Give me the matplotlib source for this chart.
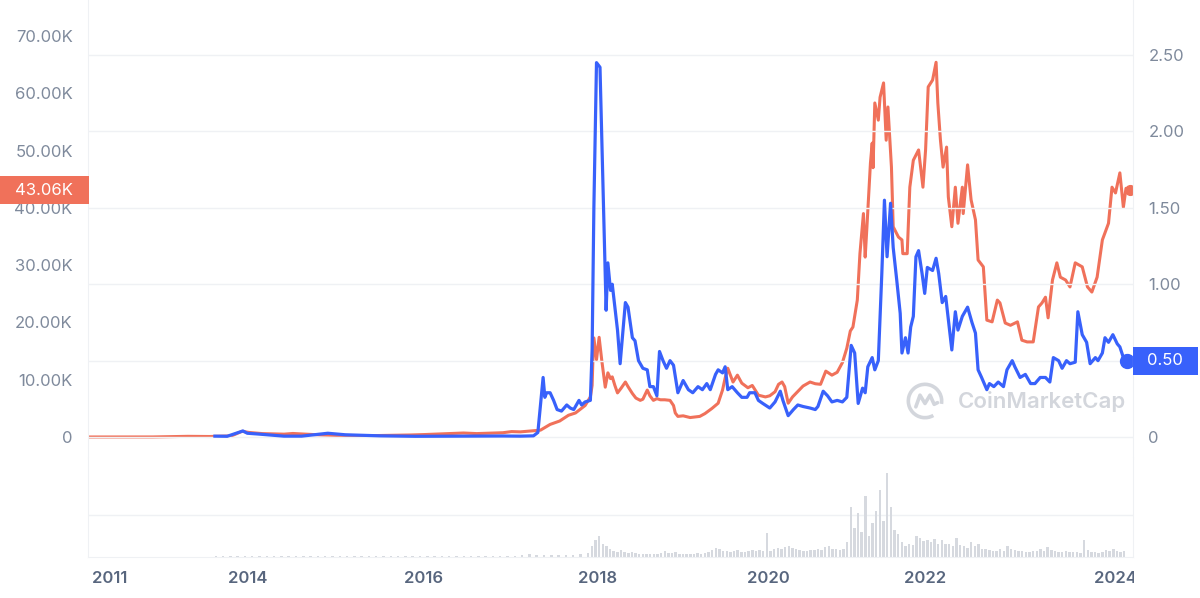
import matplotlib
matplotlib.use("Agg")
import matplotlib.pyplot as plt
from matplotlib.patches import Rectangle, Arc

plt.rcParams['font.family'] = ['Inter', 'DejaVu Sans']

# BTC price (thousands USD), left axis
btc_t = [2012.16, 2012.50, 2012.90, 2013.20, 2013.30, 2013.55, 2013.80, 2013.92, 2014.00, 2014.15,
         2014.40, 2014.50, 2014.80, 2015.00, 2015.40, 2015.85, 2016.00, 2016.45, 2016.60, 2016.90,
         2017.00, 2017.10, 2017.33, 2017.44, 2017.55, 2017.65, 2017.73, 2017.84, 2017.90, 2017.92,
         2017.93, 2017.94, 2017.97, 2018.00, 2018.03, 2018.07, 2018.10, 2018.13, 2018.15, 2018.18,
         2018.21, 2018.25, 2018.30, 2018.33, 2018.38, 2018.42, 2018.47, 2018.50, 2018.55, 2018.58,
         2018.62, 2018.66, 2018.70, 2018.75, 2018.81, 2018.85, 2018.87, 2018.90, 2018.96, 2019.04,
         2019.15, 2019.21, 2019.29, 2019.36, 2019.41, 2019.44, 2019.47, 2019.53, 2019.58, 2019.63,
         2019.70, 2019.75, 2019.82, 2019.90, 2019.95, 2020.01, 2020.05, 2020.09, 2020.12, 2020.16,
         2020.21, 2020.26, 2020.33, 2020.41, 2020.47, 2020.53, 2020.59, 2020.66, 2020.72, 2020.78,
         2020.83, 2020.87, 2020.90, 2020.95, 2020.98, 2021.02, 2021.04, 2021.06, 2021.10, 2021.12,
         2021.13, 2021.15, 2021.19, 2021.21, 2021.25, 2021.28, 2021.30, 2021.34, 2021.36, 2021.42,
         2021.46, 2021.47, 2021.52, 2021.55, 2021.59, 2021.65, 2021.70, 2021.73, 2021.76, 2021.81,
         2021.85, 2021.87, 2021.90, 2021.93, 2021.97, 2021.99, 2022.03, 2022.07, 2022.10, 2022.15,
         2022.16, 2022.21, 2022.25, 2022.30, 2022.33, 2022.39, 2022.43, 2022.49, 2022.55, 2022.58,
         2022.64, 2022.70, 2022.78, 2022.83, 2022.89, 2022.96, 2023.02, 2023.06, 2023.10, 2023.13,
         2023.18, 2023.23, 2023.27, 2023.33, 2023.38, 2023.44, 2023.52, 2023.58, 2023.63, 2023.69,
         2023.75, 2023.82, 2023.86, 2023.90, 2023.95, 2023.99, 2024.02, 2024.07]
btc_k = [0.005, 0.007, 0.012, 0.09, 0.12, 0.09, 0.2, 1.0, 0.8, 0.6,
         0.5, 0.62, 0.38, 0.28, 0.24, 0.36, 0.43, 0.7, 0.6, 0.75,
         0.95, 0.9, 1.2, 2.2, 2.8, 3.8, 4.2, 5.5, 7.0, 9.0,
         14.0, 17.3, 13.5, 17.4, 13.4, 8.7, 11.2, 10.2, 10.5, 9.0,
         7.7, 8.5, 9.6, 8.8, 7.6, 6.8, 6.4, 6.6, 8.2, 7.2,
         6.4, 6.7, 6.5, 6.5, 6.4, 5.5, 4.2, 3.6, 3.7, 3.4,
         3.6, 4.1, 5.0, 5.9, 8.2, 10.3, 12.0, 9.6, 10.8, 9.4,
         8.6, 9.0, 7.3, 7.0, 7.2, 7.9, 9.2, 9.6, 8.8, 5.9,
         7.0, 7.8, 8.9, 9.6, 9.3, 9.2, 11.5, 10.8, 11.3, 13.0,
         15.5, 18.5, 19.2, 23.9, 32.0, 39.0, 31.4, 36.7, 47.8, 51.3,
         47.0, 58.3, 55.3, 59.3, 61.8, 51.8, 57.6, 47.1, 36.7, 34.9,
         34.4, 32.0, 32.0, 43.6, 48.3, 50.1, 43.6, 50.1, 61.1, 62.3,
         65.4, 58.3, 51.8, 47.1, 50.6, 41.9, 36.7, 43.6, 37.3, 43.6,
         39.0, 47.5, 41.4, 37.9, 30.9, 29.7, 20.4, 20.1, 23.9, 23.4,
         19.9, 19.5, 20.1, 16.9, 16.6, 16.6, 22.7, 23.4, 24.4, 20.8,
         27.4, 30.4, 27.9, 27.4, 26.2, 30.4, 29.7, 26.2, 25.3, 27.9,
         34.4, 37.3, 43.6, 42.6, 46.1, 40.1, 43.4, 43.06]

# XRP price (USD), right axis
xrp_t = [2013.61, 2013.75, 2013.88, 2013.93, 2013.98, 2014.10, 2014.40, 2014.60, 2014.90, 2015.10,
         2015.50, 2015.90, 2016.50, 2016.90, 2017.10, 2017.25, 2017.30, 2017.36, 2017.38, 2017.40,
         2017.44, 2017.48, 2017.52, 2017.57, 2017.63, 2017.67, 2017.71, 2017.77, 2017.80, 2017.84,
         2017.90, 2017.92, 2017.94, 2017.97, 2018.01, 2018.05, 2018.08, 2018.10, 2018.13, 2018.15,
         2018.21, 2018.24, 2018.30, 2018.33, 2018.38, 2018.41, 2018.45, 2018.50, 2018.55, 2018.58,
         2018.62, 2018.66, 2018.69, 2018.73, 2018.77, 2018.81, 2018.85, 2018.90, 2018.96, 2019.02,
         2019.07, 2019.13, 2019.18, 2019.23, 2019.27, 2019.33, 2019.36, 2019.41, 2019.44, 2019.47,
         2019.52, 2019.58, 2019.63, 2019.69, 2019.72, 2019.78, 2019.82, 2019.87, 2019.95, 2020.01,
         2020.07, 2020.10, 2020.16, 2020.22, 2020.27, 2020.33, 2020.41, 2020.47, 2020.50, 2020.56,
         2020.61, 2020.66, 2020.72, 2020.78, 2020.83, 2020.88, 2020.92, 2020.96, 2021.01, 2021.04,
         2021.07, 2021.12, 2021.15, 2021.19, 2021.23, 2021.26, 2021.29, 2021.33, 2021.36, 2021.40,
         2021.44, 2021.46, 2021.50, 2021.53, 2021.56, 2021.59, 2021.62, 2021.65, 2021.69, 2021.72,
         2021.75, 2021.81, 2021.85, 2021.88, 2021.92, 2021.96, 2021.99, 2022.03, 2022.07, 2022.10,
         2022.15, 2022.21, 2022.26, 2022.30, 2022.33, 2022.37, 2022.43, 2022.46, 2022.51, 2022.56,
         2022.62, 2022.66, 2022.72, 2022.75, 2022.81, 2022.87, 2022.93, 2022.98, 2023.04, 2023.10,
         2023.15, 2023.19, 2023.25, 2023.29, 2023.34, 2023.38, 2023.44, 2023.47, 2023.52, 2023.57,
         2023.61, 2023.67, 2023.70, 2023.75, 2023.78, 2023.82, 2023.87, 2023.92, 2023.95, 2023.99,
         2024.03]
xrp_usd = [0.006, 0.005, 0.03, 0.04, 0.025, 0.02, 0.006, 0.006, 0.025, 0.015,
           0.008, 0.005, 0.006, 0.007, 0.006, 0.008, 0.03, 0.39, 0.26, 0.29,
           0.29, 0.24, 0.18, 0.17, 0.21, 0.19, 0.18, 0.24, 0.21, 0.23,
           0.24, 0.57, 1.50, 2.45, 2.42, 1.50, 0.83, 1.14, 0.96, 1.00,
           0.70, 0.48, 0.88, 0.85, 0.65, 0.63, 0.50, 0.45, 0.44, 0.33,
           0.33, 0.27, 0.56, 0.50, 0.45, 0.50, 0.47, 0.29, 0.37, 0.31,
           0.29, 0.33, 0.31, 0.35, 0.31, 0.41, 0.44, 0.42, 0.46, 0.31,
           0.33, 0.29, 0.26, 0.26, 0.29, 0.29, 0.24, 0.22, 0.19, 0.23,
           0.30, 0.24, 0.14, 0.18, 0.21, 0.20, 0.19, 0.18, 0.20, 0.30,
           0.27, 0.23, 0.24, 0.23, 0.26, 0.60, 0.55, 0.22, 0.32, 0.29,
           0.46, 0.52, 0.44, 0.50, 1.07, 1.55, 1.18, 1.53, 1.24, 1.03,
           0.81, 0.55, 0.65, 0.55, 0.72, 0.79, 1.18, 1.22, 1.07, 0.94,
           1.11, 1.09, 1.17, 1.07, 0.88, 0.92, 0.77, 0.57, 0.82, 0.70,
           0.79, 0.85, 0.75, 0.68, 0.44, 0.39, 0.31, 0.35, 0.33, 0.36,
           0.33, 0.44, 0.50, 0.46, 0.39, 0.41, 0.35, 0.35, 0.39, 0.39,
           0.36, 0.52, 0.50, 0.45, 0.50, 0.48, 0.49, 0.82, 0.67, 0.62,
           0.48, 0.52, 0.50, 0.55, 0.65, 0.62, 0.67, 0.61, 0.59, 0.52,
           0.50]

# volume (billions USD): monthly until late 2017, then twice a month
vol_early_start = 2013.62
vol_early = [0.15, 0.2, 0.15, 0.3, 0.25, 0.2, 0.15, 0.2, 0.15, 0.2, 0.2, 0.15,
             0.2, 0.15, 0.2, 0.2, 0.15, 0.2, 0.2, 0.15, 0.2, 0.15, 0.2, 0.2,
             0.15, 0.2, 0.2, 0.15, 0.2, 0.2, 0.15, 0.2, 0.2, 0.15, 0.2, 0.2,
             0.2, 0.15, 0.2, 0.2, 0.25, 0.3, 0.5, 0.6, 0.5, 0.4, 0.5, 0.5,
             0.4, 0.5, 0.6]
vol_late_start = 2017.875
vol_late = [1.0, 2.5, 4.0,
            5.0, 3.0, 2.5, 1.8, 1.5, 1.2, 1.6, 1.3, 1.0, 1.1, 0.9, 0.8,
            0.8, 0.7, 0.6, 0.8, 0.7, 0.9, 1.4, 1.0, 0.9, 1.2, 0.8, 0.7,
            0.7, 0.6, 0.8, 0.9, 0.8, 1.0, 1.3, 1.6, 2.2, 1.8, 1.5, 1.4,
            1.2, 1.5, 1.6, 1.3, 1.2, 1.5, 1.7, 1.4, 1.6, 1.5, 5.8, 1.4,
            1.8, 2.2, 2.0, 2.4, 2.6, 2.1, 1.8, 1.6, 1.5, 1.4, 1.6, 1.7,
            1.8, 1.6, 2.3, 2.5, 2.0, 1.8, 1.7, 1.9, 3.5, 12.0, 7.0, 10.5,
            6.0, 14.5, 5.0, 8.0, 11.0, 16.0, 8.5, 20.0, 12.0, 6.5, 5.5, 3.5,
            2.5, 3.0, 2.8, 5.0, 4.5, 3.8, 4.0, 3.5, 4.2, 3.0, 4.0, 3.2,
            3.0, 2.5, 4.5, 2.8, 2.5, 2.2, 3.5, 2.6, 3.0, 2.0, 1.8, 1.6,
            1.5, 1.4, 2.0, 1.5, 2.6, 1.8, 1.6, 1.4, 1.5, 1.3, 1.2, 1.4,
            1.5, 1.8, 1.4, 2.4, 1.6, 1.5, 1.3, 1.2, 1.4, 1.2, 1.1, 1.2,
            1.0, 4.0, 1.6, 1.2, 1.1, 1.0, 1.3, 1.6, 1.5, 1.8, 1.4, 1.3,
            1.5]

# year labels sit where the source chart puts them
year_ticks = [2012.41, 2013.99, 2015.99, 2017.98, 2019.93, 2021.72, 2023.90]
year_labels = ["2011", "2014", "2016", "2018", "2020", "2022", "2024"]
btc_ticks = [0, 10, 20, 30, 40, 50, 60, 70]
xrp_ticks = [0, 0.5, 1.0, 1.5, 2.0, 2.5]

ORANGE = "#F0715A"
BLUE = "#3861FB"
GRID = "#EFF1F4"
LABEL = "#7F8A9C"

W, H = 1200, 598
fig = plt.figure(figsize=(12, 5.98), dpi=100)


def box(x0, y0, x1, y1):
    return [x0 / W, 1 - y1 / H, (x1 - x0) / W, (y1 - y0) / H]


ax = fig.add_axes(box(88, 0, 1133, 458))
ax2 = ax.twinx()
axv = fig.add_axes(box(88, 458, 1133, 557), sharex=ax)

ax.plot(btc_t, btc_k, color=ORANGE, lw=2.2, solid_joinstyle="round")
ax.plot(btc_t[-1], btc_k[-1], "o", color=ORANGE, ms=7)
ax2.plot(xrp_t, xrp_usd, color=BLUE, lw=2.3, solid_joinstyle="round")
ax2.plot(xrp_t[-1], xrp_usd[-1], "o", color=BLUE, ms=10)

ax.set_xlim(2012.16, 2024.10)
ax.set_ylim(-3.66, 76.27)
ax2.set_ylim(-0.137, 2.86)

ax.set_yticks(btc_ticks)
ax.set_yticklabels(["0" if v == 0 else f"{v:.2f}K" for v in btc_ticks])
ax2.set_yticks(xrp_ticks)
ax2.set_yticklabels(["0" if v == 0 else f"{v:.2f}" for v in xrp_ticks])
ax.tick_params(axis="y", length=0, pad=11, labelsize=12, labelcolor=LABEL)
ax2.tick_params(axis="y", length=0, pad=11, labelsize=12, labelcolor=LABEL)
ax.tick_params(axis="x", length=0, labelbottom=False)
ax2.grid(True, axis="y", color=GRID, lw=1)
ax2.set_axisbelow(True)

for a in (ax, ax2):
    for s in a.spines.values():
        s.set_visible(False)
ax.spines["left"].set_visible(True)
ax.spines["left"].set_color(GRID)
ax2.spines["right"].set_visible(True)
ax2.spines["right"].set_color(GRID)

# volume bars
vol_t = [vol_early_start + i / 12 for i in range(len(vol_early))]
vol_t += [vol_late_start + i / 24 for i in range(len(vol_late))]
vol_b = vol_early + vol_late
axv.bar(vol_t, vol_b, width=0.028, color="#D6D9DF", edgecolor="none")
axv.set_ylim(0, 23.57)
axv.set_yticks([10])
axv.grid(True, axis="y", color=GRID, lw=1)
axv.set_axisbelow(True)
axv.tick_params(axis="y", length=0, labelleft=False)
axv.set_xticks(year_ticks)
axv.set_xticklabels(year_labels)
axv.tick_params(axis="x", length=0, pad=10, labelsize=12, labelcolor="#58667E")
for lab in axv.get_xticklabels():
    lab.set_fontweight("semibold")
axv.spines["top"].set_visible(False)
for k in ("left", "right", "bottom"):
    axv.spines[k].set_color(GRID)

# cut the last year label at the plot edge
fig.patches.append(Rectangle((1134 / W, 0), 66 / W, 36 / H, transform=fig.transFigure,
                             facecolor="white", edgecolor="none", zorder=5))

# current value tags
fig.canvas.draw()
inv = fig.transFigure.inverted()
yb = inv.transform(ax.transData.transform((2020, btc_k[-1])))[1]
yx = inv.transform(ax2.transData.transform((2020, xrp_usd[-1])))[1]
th = 28 / H
fig.patches.append(Rectangle((0, yb - th / 2), 89 / W, th, transform=fig.transFigure,
                             facecolor=ORANGE, edgecolor="none", zorder=6))
fig.text(44 / W, yb, f"{btc_k[-1]:.2f}K", color="white", fontsize=12,
         ha="center", va="center", zorder=7)
fig.patches.append(Rectangle((1133 / W, yx - th / 2), 65 / W, th, transform=fig.transFigure,
                             facecolor=BLUE, edgecolor="none", zorder=6))
fig.text(1165 / W, yx, f"{xrp_usd[-1]:.2f}", color="white", fontsize=12,
         ha="center", va="center", zorder=7)

# watermark
fig.text(1042 / W, 1 - 401 / H, "CoinMarketCap", color="#D3D6DC", fontsize=16,
         fontweight="semibold", ha="center", va="center", zorder=3)
lg = fig.add_axes(box(905, 381, 945, 421))
lg.set_xlim(-1.2, 1.2)
lg.set_ylim(-1.2, 1.2)
lg.set_aspect("equal")
lg.axis("off")
lg.add_patch(Arc((0, 0), 2, 2, theta1=-10, theta2=300, color="#D3D6DC", lw=2.6))
lg.plot([-0.55, -0.3, 0.0, 0.3, 0.55, 0.75], [-0.35, 0.35, -0.15, 0.35, -0.2, -0.1],
        color="#D3D6DC", lw=2.6, solid_joinstyle="round", solid_capstyle="round")

fig.savefig("out.png", dpi=100, facecolor="white")
